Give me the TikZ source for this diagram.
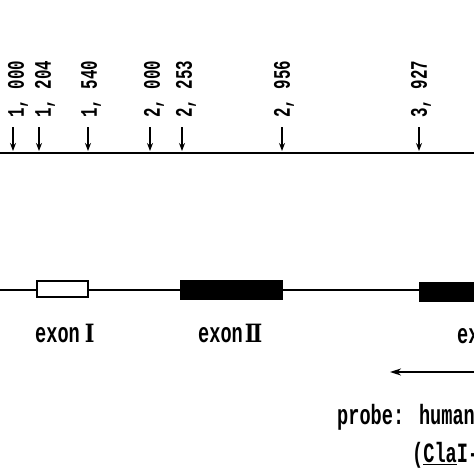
\documentclass[tikz,border=0pt]{standalone}
\usepackage{fontspec}
\usepackage{graphicx}
\newfontfamily\monof{Liberation Mono Bold}
\newfontfamily\romf{DejaVu Serif}
\usetikzlibrary{arrows.meta}
\newcommand\talltxt[1]{\scalebox{1}[1.5]{#1}}
\newcommand\talldig[1]{\scalebox{1}[1.5]{#1}}
\begin{document}
\begin{tikzpicture}[x=1pt,y=-1pt,
  tickarrow/.style={line width=1.4pt,-{Stealth[length=8pt,width=6pt]}},
  poslabel/.style={rotate=90,anchor=west,inner sep=0pt,font=\fontsize{15.8}{15}\monof},
  txtlabel/.style={anchor=base west,inner sep=0pt,font=\fontsize{18.6}{18}\monof},
  numeral/.style={font=\romf\fontsize{18}{18}\selectfont},
  exonwhite/.style={draw=black,fill=white,line width=1.4pt,inner sep=0pt},
  exonblack/.style={draw=black,fill=black,line width=1pt,inner sep=0pt},
  mapline/.style={line width=2pt},
  geneline/.style={line width=1.4pt},
  probearrow/.style={line width=1.8pt,-{Stealth[length=11pt,width=7pt]}}]
\useasboundingbox (0,0) rectangle (474,474);
\clip (0,0) rectangle (474,474);
\fill[white] (0,0) rectangle (474,474);
% map line
\coordinate (mL) at (0,153);
\coordinate (mR) at (474,153);
\draw[mapline] (mL) -- (mR);
% position arrows and labels
\foreach \ax/\lx/\txt [count=\i] in {13/18/{1, 000},39/45/{1, 204},88/91/{1, 540},150/154/{2, 000},182/186/{2, 253},282/284/{2, 956},419/421/{3, 927}}{
  \coordinate (t\i) at (\ax,127);
  \coordinate (b\i) at (\ax,151);
  \draw[tickarrow] (t\i) -- (b\i);
  \node[poslabel] (p\i) at (\lx,118) {\talldig{\txt}};
}
% gene line
\coordinate (gL) at (0,290);
\coordinate (gR) at (474,290);
\draw[geneline] (gL) -- (gR);
\node[exonwhite,minimum width=51pt,minimum height=16pt] (e1) at (62.5,289) {};
\node[exonblack,minimum width=102pt,minimum height=19pt] (e2) at (231,289.5) {};
\node[exonblack,minimum width=70pt,minimum height=19pt] (e3) at (454,291.5) {};
% exon labels
\node[txtlabel] (l1) at (35,342) {\talltxt{exon}\hspace{5pt}{\romf\fontsize{18}{18}\selectfont\scalebox{1.15}[1.4]{\textbf{Ⅰ}}}};
\node[txtlabel] (l2) at (198,342) {\talltxt{exon}\hspace{2pt}{\romf\fontsize{18}{18}\selectfont\scalebox{1.15}[1.4]{\textbf{Ⅱ}}}};
\node[txtlabel] (l3) at (457,343) {\talltxt{ex}};
% probe
\coordinate (pR) at (474,372);
\coordinate (pL) at (390,372);
\draw[probearrow] (pR) -- (pL);
\node[txtlabel] (pr) at (337,424) {\talltxt{probe: human}};
\node[txtlabel] (cl) at (412,462) {\talltxt{(\underline{Cla}I-}};
\end{tikzpicture}
\end{document}
